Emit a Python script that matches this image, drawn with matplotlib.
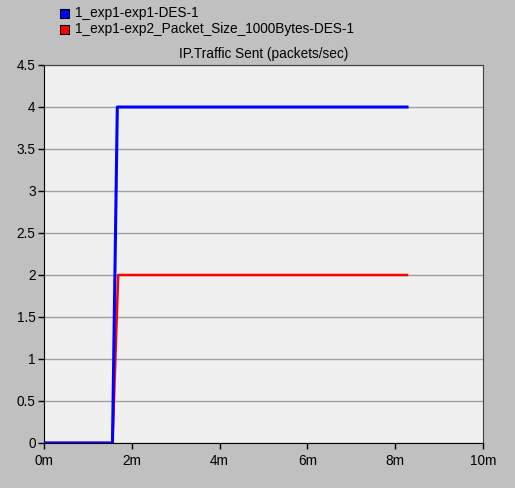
import matplotlib
matplotlib.use("Agg")
import matplotlib.pyplot as plt
from matplotlib.patches import Rectangle

# data (x in minutes)
blue_x = [0.0, 1.56, 1.67, 8.27]
blue_y = [0.0, 0.0, 4.0, 4.0]
red_x = [0.0, 1.56, 1.69, 8.27]
red_y = [0.0, 0.0, 2.0, 2.0]
series_names = ["1_exp1-exp1-DES-1", "1_exp1-exp2_Packet_Size_1000Bytes-DES-1"]
series_colors = ["#0000ff", "#ff0000"]
x_ticks = [0, 2, 4, 6, 8, 10]
y_ticks = [0, 0.5, 1, 1.5, 2, 2.5, 3, 3.5, 4, 4.5]
title = "IP.Traffic Sent (packets/sec)"

plt.rcParams['font.family'] = ['Liberation Sans', 'DejaVu Sans']
plt.rcParams['font.size'] = 9.8

fig = plt.figure(figsize=(5.15, 4.88), dpi=100)
fig.patch.set_facecolor("#c0c0c0")
ax = fig.add_axes([44 / 515, 45 / 488, 439 / 515, 378 / 488])
ax.set_facecolor("#f0f0f0")

ax.plot(blue_x, blue_y, color=series_colors[0], lw=2.2, zorder=3)
ax.plot(red_x, red_y, color=series_colors[1], lw=1.8, zorder=2)

ax.set_xlim(0, 10)
ax.set_ylim(0, 4.5)
ax.set_xticks(x_ticks)
ax.set_xticklabels([f"{t}m" for t in x_ticks])
ax.set_yticks(y_ticks)
ax.set_yticklabels([f"{t:g}" for t in y_ticks])
ax.yaxis.grid(True, color="#a0a0a0", lw=1)
ax.set_axisbelow(True)
ax.tick_params(direction="out", length=4, width=1, color="black", pad=2)
ax.tick_params(axis="x", pad=4)

for side in ["left", "bottom"]:
    ax.spines[side].set_color("black")
for side in ["top", "right"]:
    ax.spines[side].set_color("#404040")

ax.set_title(title, fontsize=9.8, pad=5)

# legend as squares + text in figure coords
for i, (name, col) in enumerate(zip(series_names, series_colors)):
    yy = 1 - (13 + 16 * i) / 488
    fig.patches.append(Rectangle((60 / 515, yy - 4.5 / 488), 9 / 515, 9 / 488,
                                 transform=fig.transFigure, facecolor=col,
                                 edgecolor="black", lw=0.8))
    fig.text(75 / 515, yy, name, va="center", ha="left", fontsize=9.8)

fig.savefig("out.png", dpi=100, facecolor=fig.get_facecolor())
